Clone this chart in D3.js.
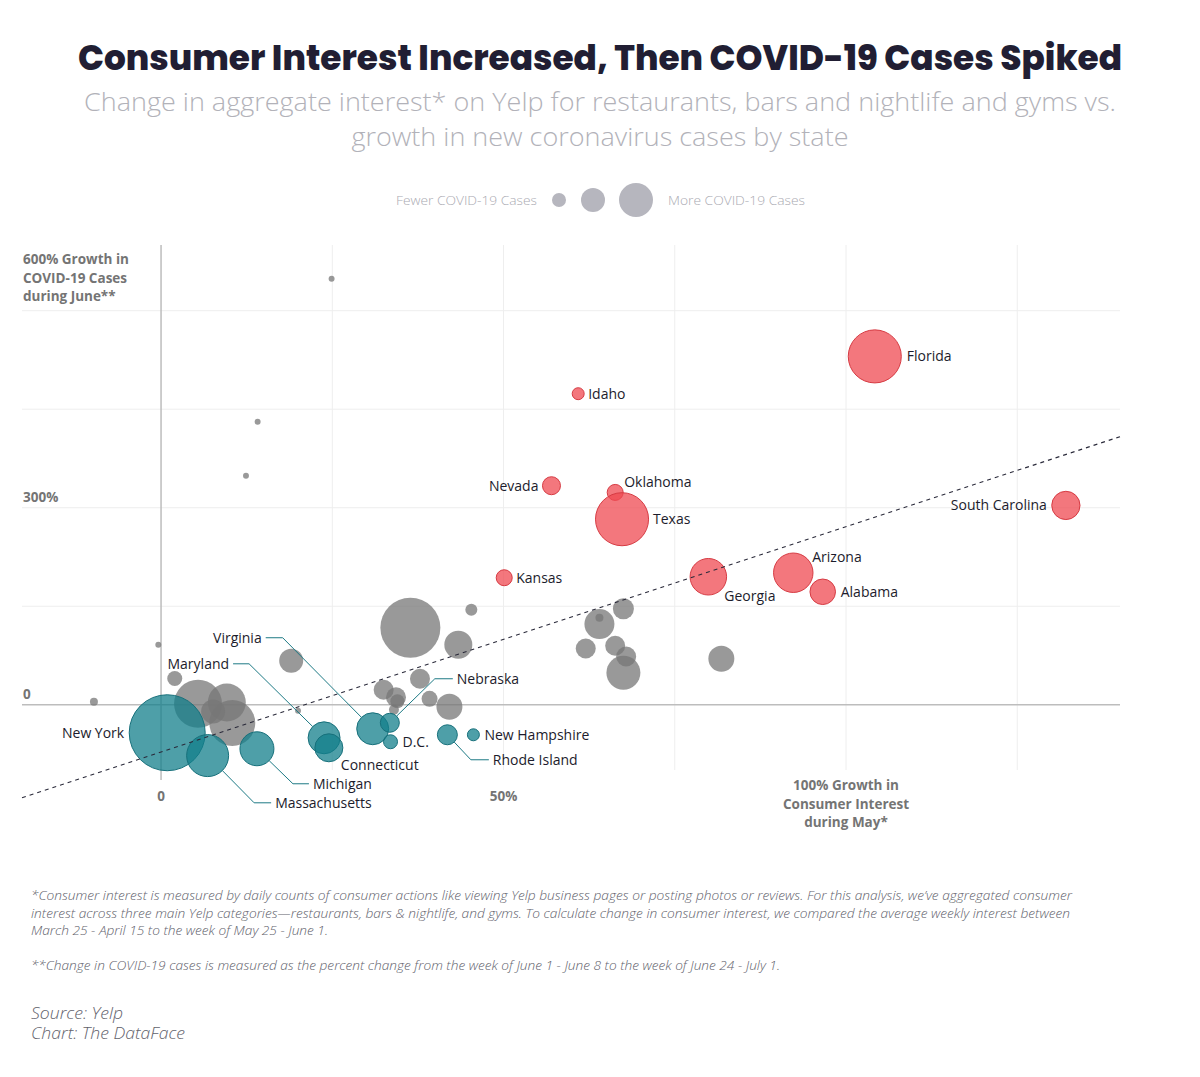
<!DOCTYPE html>
<html><head><meta charset="utf-8">
<script src="https://cdn.jsdelivr.net/npm/d3@7"></script>
<style>
body{margin:0;background:#fff;}
text{font-family:"Open Sans",sans-serif;}
</style></head>
<body>
<svg id="chart" width="1200" height="1077"></svg>
<script>
// ---------- DATA ----------
const states = [
  "Florida","Idaho","Nevada","Oklahoma","Texas","Kansas","Georgia","Arizona","Alabama","South Carolina",
  "New York","Massachusetts","Michigan","Maryland","Connecticut","Virginia","Nebraska","D.C.","Rhode Island","New Hampshire",
  "","","","","","","","","","","","","","","","","","","","","","","","","","","","","",""
];
const group = [
  "up","up","up","up","up","up","up","up","up","up",
  "down","down","down","down","down","down","down","down","down","down",
  "other","other","other","other","other","other","other","other","other","other",
  "other","other","other","other","other","other","other","other","other","other",
  "other","other","other","other","other","other","other","other","other","other"
];
// % change in consumer interest during May (x)
const interestChange = [
  104.2, 60.9, 57.0, 66.3, 67.3, 50.1, 79.9, 92.3, 96.6, 132.1,
  0.9, 6.8, 14.0, 23.8, 24.5, 30.9, 33.4, 33.5, 41.8, 45.6,
  24.9, 14.1, 12.4, -0.4, -9.8, 2.0, 5.4, 9.6, 10.4, 7.6,
  19.0, 20.0, 36.4, 43.4, 45.3, 37.8, 32.5, 34.3, 34.5, 34.0,
  39.2, 42.1, 64.0, 64.0, 67.5, 62.0, 66.3, 67.9, 67.5, 81.8
];
// % growth in COVID-19 cases during June (y)
const caseGrowth = [
  530.4, 473.6, 333.5, 323.3, 282.5, 193.4, 194.9, 201.0, 172.0, 303.5,
  -42.6, -77.4, -67.0, -50.3, -65.5, -36.5, -27.4, -56.3, -45.7, -45.7,
  648.7, 431.0, 348.7, 91.4, 4.6, 40.0, 1.5, 3.5, -27.9, -10.2,
  67.0, -9.1, 117.3, 91.4, 144.7, 39.6, 22.8, 11.4, 5.3, -7.6,
  9.1, -3.0, 122.9, 132.5, 146.2, 85.7, 89.8, 73.5, 48.7, 70.0
];
// relative number of COVID-19 cases (bubble size, thousands, estimated)
const caseCount = [
  190, 9.7, 21.9, 17.3, 190, 17.3, 90, 105, 44, 54,
  390, 119, 78, 69, 53, 69, 24.4, 13.2, 27, 9.7,
  2.4, 2.4, 2.4, 2.4, 4.3, 15.2, 155.5, 97.5, 142.8, 38.9,
  38.9, 2.4, 243, 52.9, 9.7, 27, 27, 27, 13.2, 6.75,
  17.3, 45.6, 60.8, 4.3, 29.8, 27, 27, 27, 78, 45.6
];
const trendX = [-20.3, 140];
const trendY = [-141.6, 408.2];
const xTicks = [0, 50];
const xTickLabels = ["0", "50%"];
const yTicks = [0, 300];
const yTickLabels = ["0", "300%"];
const legendValues = [13.2, 38.9, 78];

// ---------- LAYOUT / STYLE ----------
const svg = d3.select("#chart");
const x = d3.scaleLinear().domain([-20.3, 140]).range([22, 1120]);
const y = d3.scaleLinear().domain([-145, 700]).range([800, 245]);
const r = d3.scaleSqrt().domain([0, 390]).range([0, 38]);
const fills = {up:"#ef4a52", down:"#137f8b", other:"#777777"};
const strokes = {up:"#d63b43", down:"#17707b", other:"none"};

// title
svg.append("text").attr("x",600).attr("y",70).attr("text-anchor","middle")
  .attr("textLength",1044).attr("lengthAdjust","spacingAndGlyphs")
  .style("font-family","Poppins, Inter, sans-serif").style("font-weight",800)
  .style("font-size","35px").attr("fill","#211e33")
  .text("Consumer Interest Increased, Then COVID-19 Cases Spiked");
const sub = [["Change in aggregate interest* on Yelp for restaurants, bars and nightlife and gyms vs.",111,1032],
             ["growth in new coronavirus cases by state",146,497]];
sub.forEach(s=>svg.append("text").attr("x",600).attr("y",s[1]).attr("text-anchor","middle")
  .attr("textLength",s[2]).attr("lengthAdjust","spacingAndGlyphs")
  .style("font-size","26px").style("font-weight",300).attr("fill","#b2b2b9").text(s[0]));

// legend
svg.append("text").attr("x",396).attr("y",205).attr("textLength",141).attr("lengthAdjust","spacingAndGlyphs")
  .style("font-size","13px").style("font-weight",300).attr("fill","#aaaab2").text("Fewer COVID-19 Cases");
svg.append("text").attr("x",668).attr("y",205).attr("textLength",137).attr("lengthAdjust","spacingAndGlyphs")
  .style("font-size","13px").style("font-weight",300).attr("fill","#aaaab2").text("More COVID-19 Cases");
const legX = [559, 593, 636];
svg.selectAll("circle.leg").data(legendValues).join("circle").attr("class","leg")
  .attr("cx",(d,i)=>legX[i]).attr("cy",200).attr("r",d=>r(d)).attr("fill","#b6b6be");

// grid
const g = svg.append("g");
[150,300,450,600].forEach(v=>g.append("line").attr("x1",22).attr("x2",1120)
  .attr("y1",y(v)).attr("y2",y(v)).attr("stroke","#eeeeee").attr("stroke-width",1));
[25,50,75,100,125].forEach(v=>g.append("line").attr("x1",x(v)).attr("x2",x(v))
  .attr("y1",245).attr("y2",770).attr("stroke","#eeeeee").attr("stroke-width",1));
g.append("line").attr("x1",22).attr("x2",1120).attr("y1",y(0)).attr("y2",y(0))
  .attr("stroke","#bdbdbd").attr("stroke-width",1.5);
g.append("line").attr("x1",x(0)).attr("x2",x(0)).attr("y1",245).attr("y2",780)
  .attr("stroke","#bdbdbd").attr("stroke-width",1.5);

// axis labels
const axisStyle = t=>t.style("font-size","13.5px").style("font-weight",700).attr("fill","#747474");
yTicks.forEach((v,i)=>axisStyle(svg.append("text").attr("x",23).attr("y",y(v)-6).text(yTickLabels[i])));
["600% Growth in","COVID-19 Cases","during June**"].forEach((t,i)=>
  axisStyle(svg.append("text").attr("x",23).attr("y",264+i*18.5).text(t)));
xTicks.forEach((v,i)=>axisStyle(svg.append("text").attr("x",x(v)).attr("y",801)
  .attr("text-anchor","middle").text(xTickLabels[i])));
["100% Growth in","Consumer Interest","during May*"].forEach((t,i)=>
  axisStyle(svg.append("text").attr("x",x(100)).attr("y",790+i*18.5).attr("text-anchor","middle").text(t)));

// bubbles
const data = states.map((s,i)=>({name:s,g:group[i],x:interestChange[i],y:caseGrowth[i],c:caseCount[i]}));
const order = {other:0, down:1, up:2};
const sorted = data.slice().sort((a,b)=>order[a.g]-order[b.g]);
svg.append("g").selectAll("circle").data(sorted).join("circle")
  .attr("cx",d=>x(d.x)).attr("cy",d=>y(d.y)).attr("r",d=>r(d.c))
  .attr("fill",d=>fills[d.g]).attr("fill-opacity",0.75)
  .attr("stroke",d=>strokes[d.g]).attr("stroke-width",1);

// trend line
svg.append("line").attr("x1",x(trendX[0])).attr("y1",y(trendY[0]))
  .attr("x2",x(trendX[1])).attr("y2",y(trendY[1]))
  .attr("stroke","#2a2a3a").attr("stroke-width",1.1).attr("stroke-dasharray","4,4");

// labels (pixel offsets from bubble centre): [dx, dy, anchor, elbowDx, elbowDy]
const labelLayout = {
  "Florida":[32,0,"start"], "Idaho":[10,0,"start"], "Nevada":[-13,0,"end"],
  "Oklahoma":[9,-10,"start"], "Texas":[31,0,"start"], "Kansas":[12,0,"start"],
  "Georgia":[16,19,"start"], "Arizona":[19,-16,"start"], "Alabama":[18,0,"start"],
  "South Carolina":[-19,0,"end"], "New York":[-43,0,"end"],
  "Massachusetts":[67.5,47.2,"start",46.5,47.2], "Michigan":[56,35,"start",36,35],
  "Maryland":[-95,-74,"end",-75,-74], "Connecticut":[12,17,"start"],
  "Virginia":[-111,-91,"end",-90,-91], "Nebraska":[67,-44,"start",45,-44],
  "D.C.":[12,0,"start"], "Rhode Island":[45.5,25,"start",23.5,25], "New Hampshire":[11,0,"start"]
};
const lab = svg.append("g");
data.filter(d=>d.name && labelLayout[d.name]).forEach(d=>{
  const L = labelLayout[d.name];
  const cx = x(d.x), cy = y(d.y), rr = r(d.c);
  if (L.length > 3) {
    const len = Math.hypot(L[3],L[4]);
    const sx = cx + L[3]/len*rr, sy = cy + L[4]/len*rr;
    const ex = cx + L[0] + (L[2]==="start" ? -4 : 4);
    lab.append("polyline").attr("points",[[sx,sy],[cx+L[3],cy+L[4]],[ex,cy+L[4]]].map(p=>p.join(",")).join(" "))
      .attr("fill","none").attr("stroke","#1d7a85").attr("stroke-width",1);
  }
  lab.append("text").attr("x",cx+L[0]).attr("y",cy+L[1]+5).attr("text-anchor",L[2])
    .style("font-size","14px").attr("fill","#1c1c2c").text(d.name);
});

// footnotes
const notes = [
  ["*Consumer interest is measured by daily counts of consumer actions like viewing Yelp business pages or posting photos or reviews. For this analysis, we\u2019ve aggregated consumer",900,1041],
  ["interest across three main Yelp categories\u2014restaurants, bars & nightlife, and gyms. To calculate change in consumer interest, we compared the average weekly interest between",918,1039],
  ["March 25 - April 15 to the week of May 25 - June 1.",935,297],
  ["**Change in COVID-19 cases is measured as the percent change from the week of June 1 - June 8 to the week of June 24 - July 1.",970,749]
];
notes.forEach(n=>svg.append("text").attr("x",31).attr("y",n[1])
  .attr("textLength",n[2]).attr("lengthAdjust","spacingAndGlyphs")
  .style("font-size","13px").style("font-style","italic").style("font-weight",300)
  .attr("fill","#62626c").text(n[0]));
[["Source: Yelp",1019,92],["Chart: The DataFace",1039,154]].forEach(n=>
  svg.append("text").attr("x",31).attr("y",n[1]).attr("textLength",n[2]).attr("lengthAdjust","spacingAndGlyphs")
  .style("font-size","16px").style("font-style","italic").style("font-weight",300)
  .attr("fill","#62626c").text(n[0]));
</script>
</body></html>
